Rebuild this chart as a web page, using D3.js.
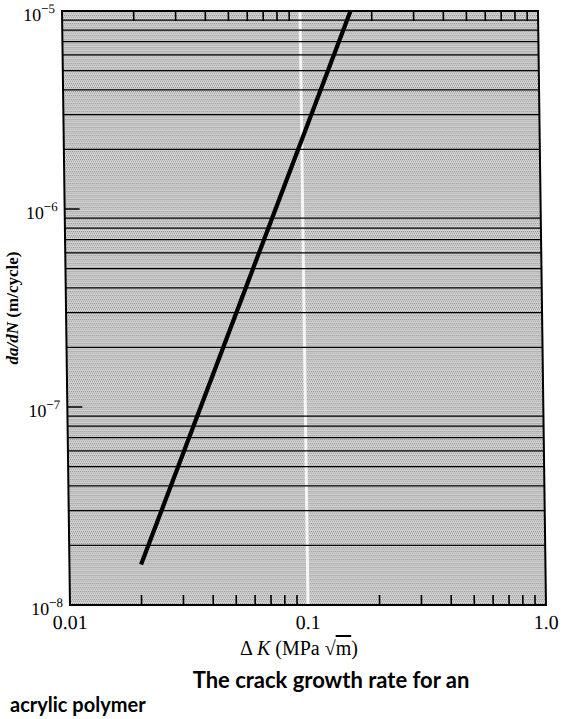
<!DOCTYPE html>
<html>
<head>
<meta charset="utf-8">
<script src="https://cdn.jsdelivr.net/npm/d3@7"></script>
<style>
  body { margin: 0; background: #fff; }
</style>
</head>
<body>
<div id="chart"></div>
<script>
// data
const deltaK = [0.02, 0.163];          // MPa sqrt(m)
const dadN = [1.6e-8, 1.0e-5];         // m/cycle
const xTickValues = [0.01, 0.1, 1];
const xTickLabels = ["0.01", "0.1", "1.0"];
const yDecades = [-5, -6, -7, -8];
const minorSteps = [2, 3, 4, 5, 6, 7, 8, 9];

const width = 574, height = 719;
const margin = { left: 62, top: 11 };
const W = 476, H = 594;

const svg = d3.select("#chart").append("svg")
    .attr("width", width)
    .attr("height", height);

// halftone-ish fill
const defs = svg.append("defs");
const pat = defs.append("pattern")
    .attr("id", "halftone")
    .attr("width", 4).attr("height", 4)
    .attr("patternUnits", "userSpaceOnUse");
pat.append("rect").attr("width", 4).attr("height", 4).attr("fill", "#d4d4d4");
[[0, 0], [2, 0], [1, 2], [3, 2]].forEach(p => {
    pat.append("rect").attr("x", p[0]).attr("y", p[1])
        .attr("width", 1).attr("height", 1).attr("fill", "#8a8a8a");
});

const x = d3.scaleLog().domain([0.01, 1]).range([0, W]);
const y = d3.scaleLog().domain([1e-8, 1e-5]).range([H, 0]);

// scanned page is slightly skewed
const g = svg.append("g")
    .attr("transform", `translate(${margin.left},${margin.top}) skewX(0.77)`);

g.append("rect")
    .attr("width", W).attr("height", H)
    .attr("fill", "url(#halftone)");

// white streak at 0.1
g.append("line")
    .attr("x1", x(0.1)).attr("x2", x(0.1))
    .attr("y1", 0).attr("y2", H)
    .attr("stroke", "#fff").attr("stroke-width", 3).attr("opacity", 0.85);

// horizontal minor grid lines
const yMinor = [];
[-8, -7, -6].forEach(e => minorSteps.forEach(k => yMinor.push(k * Math.pow(10, e))));
g.selectAll(".hgrid")
    .data(yMinor)
    .enter().append("line")
    .attr("class", "hgrid")
    .attr("x1", 0).attr("x2", W)
    .attr("y1", d => y(d)).attr("y2", d => y(d))
    .attr("stroke", "#000").attr("stroke-width", 1.3);

// short ticks at the inner decades
g.selectAll(".ymajor")
    .data([1e-6, 1e-7])
    .enter().append("line")
    .attr("x1", 0).attr("x2", 15)
    .attr("y1", d => y(d)).attr("y2", d => y(d))
    .attr("stroke", "#000").attr("stroke-width", 1.5);

// x minor ticks top and bottom
const xMinor = [];
[-2, -1].forEach(e => minorSteps.forEach(k => xMinor.push(k * Math.pow(10, e))));
g.selectAll(".xtickb")
    .data(xMinor)
    .enter().append("line")
    .attr("x1", d => x(d)).attr("x2", d => x(d))
    .attr("y1", H).attr("y2", H - 10)
    .attr("stroke", "#000").attr("stroke-width", 1.6);
g.selectAll(".xtickt")
    .data(xMinor)
    .enter().append("line")
    .attr("x1", d => x(d)).attr("x2", d => x(d))
    .attr("y1", 0).attr("y2", 10)
    .attr("stroke", "#000").attr("stroke-width", 1.6);

// frame
g.append("rect")
    .attr("width", W).attr("height", H)
    .attr("fill", "none").attr("stroke", "#000").attr("stroke-width", 2);

// crack growth line
const line = d3.line().x(d => x(d[0])).y(d => y(d[1]));
g.append("path")
    .datum(deltaK.map((k, i) => [k, dadN[i]]))
    .attr("d", line)
    .attr("fill", "none")
    .attr("stroke", "#000")
    .attr("stroke-width", 4.2);

// y tick labels
const yl = g.selectAll(".ylab")
    .data(yDecades)
    .enter().append("text")
    .attr("x", -7)
    .attr("y", d => y(Math.pow(10, d)) + 10)
    .attr("text-anchor", "end")
    .attr("font-family", "Liberation Serif, serif")
    .attr("font-size", 18)
    .attr("fill", "#000");
yl.append("tspan").text("10");
yl.append("tspan")
    .attr("dy", -8)
    .attr("font-size", 13)
    .text(d => "\u2212" + Math.abs(d));

// x tick labels
g.selectAll(".xlab")
    .data(xTickValues)
    .enter().append("text")
    .attr("x", d => x(d))
    .attr("y", H + 24)
    .attr("text-anchor", "middle")
    .attr("font-family", "Liberation Serif, serif")
    .attr("font-size", 20)
    .attr("fill", "#000")
    .text((d, i) => xTickLabels[i]);

// axis titles
const xt = svg.append("text")
    .attr("x", 299).attr("y", 655)
    .attr("text-anchor", "middle")
    .attr("font-family", "Liberation Serif, serif")
    .attr("font-size", 20)
    .attr("fill", "#000");
xt.append("tspan").text("\u0394 ");
xt.append("tspan").attr("font-style", "italic").text("K");
xt.append("tspan").text(" (MPa \u221A");
xt.append("tspan").attr("text-decoration", "overline").text("m");
xt.append("tspan").text(")");

const yt = svg.append("text")
    .attr("transform", "translate(18,308) rotate(-90)")
    .attr("text-anchor", "middle")
    .attr("font-family", "Liberation Serif, serif")
    .attr("font-size", 17)
    .attr("font-weight", "bold")
    .attr("fill", "#000");
yt.append("tspan").attr("font-style", "italic").text("da/dN");
yt.append("tspan").text(" (m/cycle)");

// caption
svg.append("text")
    .attr("x", 331).attr("y", 688)
    .attr("text-anchor", "middle")
    .attr("font-family", "Lato, sans-serif")
    .attr("font-weight", "bold")
    .attr("font-size", 22)
    .attr("fill", "#000")
    .text("The crack growth rate for an");

svg.append("text")
    .attr("x", 10).attr("y", 712)
    .attr("font-family", "Lato, sans-serif")
    .attr("font-weight", "bold")
    .attr("font-size", 20)
    .attr("fill", "#000")
    .text("acrylic polymer");
</script>
</body>
</html>
